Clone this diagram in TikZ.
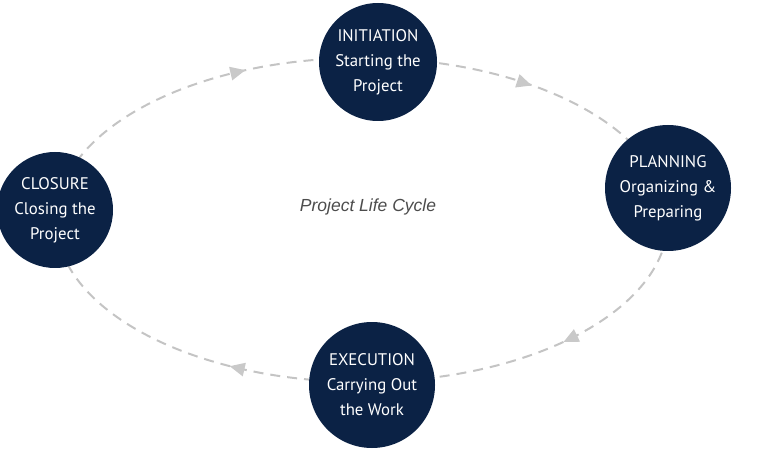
\documentclass[tikz,border=0pt]{standalone}
\usepackage{fontspec}
\setmainfont{PT Sans}
\newfontfamily\lab{Liberation Sans}
\begin{document}
\begin{tikzpicture}[x=1pt,y=1pt,
  phase/.style={circle,fill=navy,text=white,minimum size=#1,inner sep=0pt,align=center,font=\fontsize{16.8}{25}\selectfont},
  cyc/.style={draw=dashgray,line width=2pt,dash pattern=on 10pt off 7pt},
  tip/.style={fill=tipgray}]
\definecolor{navy}{HTML}{0B2245}
\definecolor{dashgray}{HTML}{C4C4C4}
\definecolor{tipgray}{HTML}{C9C9C9}
\useasboundingbox (0,0) rectangle (757,450);
\coordinate (ctr) at (362,230);
\draw[cyc] (ctr) ellipse [x radius=306,y radius=162];
\foreach \p/\a in {{(237.5,378)}/13,{(524,367)}/-18.3,{(570.7,111.5)}/206,{(237.5,82)}/167}{
  \fill[tip,shift={\p},rotate=\a] (8,0) -- (-7,7) -- (-7,-7) -- cycle;
}
\node[phase=118pt] (ini) at (378,388) {INITIATION\\Starting the\\Project};
\node[phase=126pt] (pla) at (668,262) {PLANNING\\Organizing \&\\Preparing};
\node[phase=126pt] (exe) at (372,65) {EXECUTION\\Carrying Out\\the Work};
\node[phase=116pt] (clo) at (55,240) {CLOSURE\\Closing the\\Project};
\node[font=\lab\itshape\fontsize{17.5}{20}\selectfont,text=black!70] (lbl) at (368,243) {Project Life Cycle};
\end{tikzpicture}
\end{document}
